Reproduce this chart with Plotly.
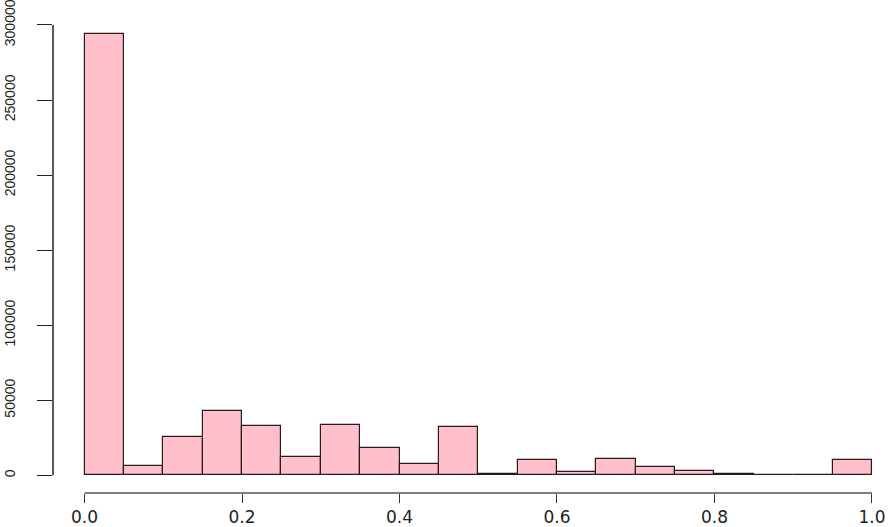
import plotly.graph_objects as go

bin_left = [0.00, 0.05, 0.10, 0.15, 0.20, 0.25, 0.30, 0.35, 0.40, 0.45,
            0.50, 0.55, 0.60, 0.65, 0.70, 0.75, 0.80, 0.85, 0.90, 0.95]
counts = [294300, 6300, 25200, 43000, 33000, 11900, 33400, 18100, 7400, 32300,
          1200, 10100, 2300, 11000, 5700, 3000, 1200, 500, 200, 10300]
bin_width = 0.05
x_ticks = [0.0, 0.2, 0.4, 0.6, 0.8, 1.0]
x_tick_labels = ["0.0", "0.2", "0.4", "0.6", "0.8", "1.0"]
y_ticks = [0, 50000, 100000, 150000, 200000, 250000, 300000]
y_tick_labels = [str(v) for v in y_ticks]

centers = [b + bin_width / 2 for b in bin_left]

fig = go.Figure()
fig.add_trace(go.Bar(
    x=centers, y=counts, width=[bin_width] * len(counts),
    marker=dict(color="#FFC0CB", line=dict(color="#2a1a1a", width=1.2)),
    hoverinfo="skip",
))

ymax = max(counts)
pad_y = 0.04 * ymax
fig.update_layout(
    width=889, height=527,
    margin=dict(l=53, r=0, t=16, b=34),
    plot_bgcolor="white", paper_bgcolor="white",
    showlegend=False,
    bargap=0,
    xaxis=dict(
        range=[-0.04, 1.0216], tickvals=x_ticks, ticktext=x_tick_labels,
        ticks="outside", ticklen=9, tickcolor="#333", tickwidth=1.3,
        showgrid=False, zeroline=False, showline=False,
        tickfont=dict(family="DejaVu Sans", size=17, color="#222"),
        ticklabelstandoff=0, automargin=False, ticklabeloverflow="allow",
    ),
    yaxis=dict(
        range=[-pad_y, ymax + pad_y * 0.99], tickvals=y_ticks, ticktext=y_tick_labels,
        ticks="outside", ticklen=15, tickcolor="#222", tickwidth=1.3,
        tickangle=-90,
        showgrid=False, zeroline=False, showline=False,
        tickfont=dict(family="Liberation Sans Narrow, Liberation Sans", size=14, color="#222"),
        ticklabelstandoff=16, automargin=False, ticklabeloverflow="allow",
    ),
)
# R-style axis lines spanning only first to last tick
fig.add_shape(type="line", xref="x", yref="paper", x0=x_ticks[0], x1=x_ticks[-1], y0=0, y1=0,
              line=dict(color="#555", width=1.5))
fig.add_shape(type="line", xref="paper", yref="y", x0=0, x1=0, y0=y_ticks[0], y1=y_ticks[-1],
              line=dict(color="#222", width=1.5))

fig.write_html("out.html", config={"displayModeBar": False},
               post_script="document.body.style.margin='0';")
